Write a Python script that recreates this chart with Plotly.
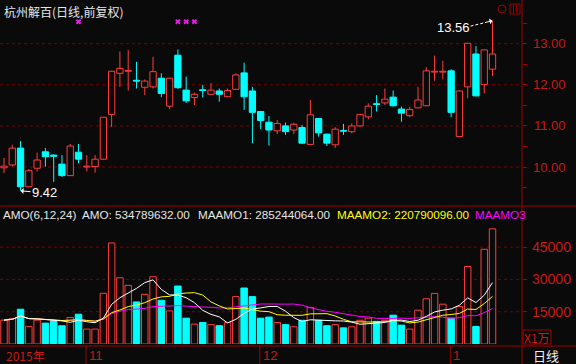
import plotly.graph_objects as go
import pandas as pd

# ---------------- data ----------------
idx = list(range(60))
opens = [9.98, 10.05, 10.46, 9.52, 9.97, 10.37, 10.29, 10.07, 9.79, 10.36,
         10.00, 10.01, 10.19, 11.28, 12.28, 12.33, 12.11, 11.94, 11.95, 12.16,
         11.48, 12.72, 11.87, 11.69, 11.88, 11.77, 11.85, 11.71, 11.89, 12.29,
         11.85, 11.35, 11.09, 10.88, 11.00, 10.90, 10.96, 10.55, 11.18, 10.80,
         10.54, 10.89, 10.86, 11.00, 11.22, 11.54, 11.56, 11.70, 11.41, 11.25,
         11.44, 11.49, 12.31, 12.31, 12.34, 10.74, 11.95, 12.75, 12.01, 12.38]
highs = [10.22, 10.54, 10.63, 9.95, 10.35, 10.46, 10.31, 10.29, 10.56, 10.56,
         10.29, 10.29, 11.22, 12.34, 12.81, 12.85, 12.56, 12.13, 12.68, 12.28,
         12.17, 12.86, 12.20, 11.81, 12.00, 12.04, 11.91, 11.91, 12.28, 12.54,
         11.95, 11.36, 11.24, 11.14, 11.08, 11.08, 11.02, 11.63, 11.19, 10.81,
         10.97, 11.05, 11.06, 11.29, 11.55, 11.75, 11.91, 11.86, 11.47, 11.47,
         11.95, 12.43, 12.71, 12.58, 12.38, 11.86, 13.02, 12.94, 12.86, 13.56]
lows = [9.85, 10.01, 9.42, 9.50, 9.89, 10.01, 9.64, 9.76, 9.78, 10.09,
        9.89, 9.86, 10.18, 10.97, 11.95, 11.86, 11.91, 11.75, 11.91, 11.70,
        11.41, 11.90, 11.56, 11.51, 11.69, 11.75, 11.59, 11.70, 11.88, 11.39,
        10.58, 10.92, 10.52, 10.80, 10.78, 10.80, 10.56, 10.54, 10.74, 10.51,
        10.46, 10.78, 10.82, 10.97, 11.16, 11.35, 11.51, 11.47, 11.10, 11.21,
        11.43, 11.48, 12.10, 12.13, 11.21, 10.73, 11.67, 11.72, 11.79, 12.21]
closes = [10.02, 10.46, 9.52, 9.91, 10.17, 10.25, 10.26, 9.79, 10.51, 10.19,
          10.02, 10.19, 11.21, 12.33, 12.40, 12.35, 12.09, 12.09, 12.32, 11.79,
          12.16, 11.93, 11.61, 11.77, 11.86, 11.87, 11.77, 11.86, 12.24, 11.71,
          11.33, 11.13, 10.90, 11.06, 10.86, 11.04, 10.58, 11.27, 10.83, 10.58,
          10.92, 10.87, 11.00, 11.28, 11.48, 11.52, 11.65, 11.49, 11.31, 11.40,
          11.63, 12.34, 12.33, 12.33, 11.33, 11.85, 13.01, 11.73, 12.85, 12.75]
# turnover amount, unit 10^4 yuan (X1万)
amount = [11080, 11840, 16150, 8150, 11080, 9690, 10770, 8460, 12310, 13840,
          6920, 6920, 23540, 46920, 30770, 27230, 19530, 23080, 31230, 20310,
          15380, 26920, 12000, 9230, 10000, 9000, 8500, 10000, 22000, 26000,
          22000, 12000, 12500, 10000, 9000, 8000, 11000, 17000, 11000, 8500,
          9000, 7500, 8000, 11000, 12000, 10500, 11000, 13385, 8770, 6920,
          15690, 21000, 23500, 18500, 12000, 17380, 36000, 8150, 44000, 53479]
ma_periods = [6, 12, 24]
ma_colors = ["#ffffff", "#ffff00", "#ff00ff"]
month_start_idx = [10, 31, 54]
month_labels = ["11", "12", "1"]
price_ticks = [10, 11, 12, 13]
price_tick_labels = ["10.00", "11.00", "12.00", "13.00"]
vol_ticks = [15000, 30000, 45000]
vol_tick_labels = ["15000", "30000", "45000"]
mark_idx = [9, 21, 22, 23]
mark_price = 13.535
hi_idx, hi_val = 59, 13.56
lo_idx, lo_val = 2, 9.42
title_text = "杭州解百(日线,前复权)"
ind_texts = [("AMO(6,12,24)", 1, "#e6e6e6"),
             ("AMO: 534789632.00", 80, "#e6e6e6"),
             ("MAAMO1: 285244064.00", 196, "#e6e6e6"),
             ("MAAMO2: 220790096.00", 335, "#ffff00"),
             ("MAAMO3", 473, "#ff00ff")]

# ---------------- style ----------------
W, H = 576, 364
BG = "#0a0a0a"
RED = "#ff3c3c"
CYAN = "#00ffff"
AXR = "#a00000"
GRID = "#7a0000"
LBL = "#c81818"
LAT = "Liberation Sans, Arial, DejaVu Sans, sans-serif"
CJK = "Noto Sans CJK SC, sans-serif"
PLOT_R = 522
PX_PER_BAR = 8.28
PX_PER_YUAN = 41.1


def px(x):
    return x / W


def py(y):
    return 1 - y / H


up = [c >= o for o, c in zip(opens, closes)]
body_base = [min(o, c) for o, c in zip(opens, closes)]
body_h = [max(abs(c - o), 0.012) for o, c in zip(opens, closes)]
body_fill = [BG if u else CYAN for u in up]
body_line = [RED if u else CYAN for u in up]

fig = go.Figure()

# wicks
for flag, col in [(True, RED), (False, CYAN)]:
    wx, wy = [], []
    for i, o, h, l, c, u in zip(idx, opens, highs, lows, closes, up):
        if u != flag:
            continue
        top, bot = max(o, c), min(o, c)
        if h > top:
            wx += [i, i, None]
            wy += [top, h, None]
        if l < bot:
            wx += [i, i, None]
            wy += [bot, l, None]
    fig.add_trace(go.Scatter(x=wx, y=wy, mode="lines", line=dict(color=col, width=1),
                             hoverinfo="skip", xaxis="x", yaxis="y"))

# bodies
fig.add_trace(go.Bar(x=idx, y=body_h, base=body_base, width=0.76,
                     marker=dict(color=body_fill, line=dict(color=body_line, width=1)),
                     hoverinfo="skip", xaxis="x", yaxis="y"))

# event markers
fig.add_trace(go.Scatter(x=mark_idx, y=[mark_price] * len(mark_idx), mode="markers",
                         marker=dict(symbol="x", size=5, color="#e020e0", line=dict(width=0)),
                         hoverinfo="skip", xaxis="x", yaxis="y"))

# amount bars
fig.add_trace(go.Bar(x=idx, y=amount, width=0.78,
                     marker=dict(color=body_fill, line=dict(color=body_line, width=1)),
                     hoverinfo="skip", xaxis="x2", yaxis="y2"))

# moving averages of amount
s = pd.Series(amount, dtype=float)
for n, col in list(zip(ma_periods, ma_colors))[::-1]:
    ma = s.rolling(n, min_periods=1).mean().tolist()
    fig.add_trace(go.Scatter(x=idx, y=ma, mode="lines", line=dict(color=col, width=1),
                             hoverinfo="skip", xaxis="x2", yaxis="y2"))

xr = [-4 / PX_PER_BAR, (PLOT_R - 4) / PX_PER_BAR]
p_lo = 13 - (206 - 43.7) / PX_PER_YUAN
p_hi = 13 + 43.7 / PX_PER_YUAN
v_top = (344 - 207) / 32.3 * 15000

axis_common = dict(showgrid=False, zeroline=False, showticklabels=False, fixedrange=True)
fig.update_layout(
    width=W, height=H, margin=dict(l=0, r=0, t=0, b=0),
    paper_bgcolor=BG, plot_bgcolor=BG, showlegend=False, barmode="overlay",
    xaxis=dict(domain=[0, px(PLOT_R)], range=xr, anchor="y", **axis_common),
    xaxis2=dict(domain=[0, px(PLOT_R)], range=xr, anchor="y2", matches="x", **axis_common),
    yaxis=dict(domain=[py(206), 1], range=[p_lo, p_hi], side="right", anchor="x",
               showline=False, ticks="outside", ticklen=4, tickcolor=AXR,
               tickvals=[v / 2 for v in range(19, 28)], **axis_common),
    yaxis2=dict(domain=[py(344), py(207)], range=[0, v_top], side="right", anchor="x2",
                showline=False, ticks="outside", ticklen=4, tickcolor=AXR,
                tickvals=vol_ticks, **axis_common),
)

shapes = []
# grid lines
for t in price_ticks:
    shapes.append(dict(type="line", xref="paper", yref="y", x0=0, x1=px(PLOT_R), y0=t, y1=t,
                       line=dict(color=GRID, width=1, dash="dot"), layer="below"))
for t in vol_ticks:
    shapes.append(dict(type="line", xref="paper", yref="y2", x0=0, x1=px(PLOT_R), y0=t, y1=t,
                       line=dict(color=GRID, width=1, dash="dot"), layer="below"))
# frame lines
shapes.append(dict(type="line", xref="paper", yref="paper", x0=px(PLOT_R), x1=px(PLOT_R), y0=0, y1=1,
                   line=dict(color=AXR, width=1)))
shapes.append(dict(type="line", xref="paper", yref="paper", x0=0, x1=1, y0=py(206), y1=py(206),
                   line=dict(color=AXR, width=1)))
shapes.append(dict(type="line", xref="paper", yref="paper", x0=0, x1=1, y0=py(346), y1=py(346),
                   line=dict(color=AXR, width=1)))
# X1万 box
shapes.append(dict(type="rect", xref="paper", yref="paper", x0=px(523), x1=px(551), y0=py(344), y1=py(330),
                   line=dict(color=AXR, width=1)))
# top-right icons
shapes.append(dict(type="circle", xref="paper", yref="paper", x0=px(498), x1=px(506), y0=py(13), y1=py(5),
                   line=dict(color=AXR, width=1)))
shapes.append(dict(type="rect", xref="paper", yref="paper", x0=px(510), x1=px(520), y0=py(14), y1=py(4),
                   line=dict(color=AXR, width=1)))
shapes.append(dict(type="line", xref="paper", yref="paper", x0=px(513.5), x1=px(513.5), y0=py(13), y1=py(5),
                   line=dict(color=AXR, width=1)))
shapes.append(dict(type="line", xref="paper", yref="paper", x0=px(516.5), x1=px(516.5), y0=py(13), y1=py(5),
                   line=dict(color=AXR, width=1)))
# month separators
for m in month_start_idx:
    shapes.append(dict(type="line", xref="x", yref="paper", x0=m - 0.1, x1=m - 0.1, y0=0, y1=py(346),
                       line=dict(color=AXR, width=1)))
# dashed leader for the high marker
shapes.append(dict(type="line", xref="x", yref="y",
                   x0=hi_idx - 22 / PX_PER_BAR, y0=hi_val - 5.5 / PX_PER_YUAN,
                   x1=hi_idx - 2 / PX_PER_BAR, y1=hi_val - 0.5 / PX_PER_YUAN,
                   line=dict(color="#ffffff", width=1, dash="3px,2px")))
fig.update_layout(shapes=shapes)

ann = []
ann.append(dict(text=title_text, x=px(2), y=py(12), xref="paper", yref="paper", xanchor="left",
                yanchor="middle", showarrow=False, font=dict(family=CJK, size=12, color="#e6e6e6")))
for t, lab in zip(price_ticks, price_tick_labels):
    ann.append(dict(text=lab, x=px(568), y=t, xref="paper", yref="y", xanchor="right", yanchor="middle",
                    showarrow=False, font=dict(family=LAT, size=13, color=LBL)))
for t, lab in zip(vol_ticks, vol_tick_labels):
    ann.append(dict(text=lab, x=px(573), y=t, xref="paper", yref="y2", xanchor="right", yanchor="middle",
                    showarrow=False, font=dict(family=LAT, size=14, color=LBL)))
ann.append(dict(text="X1万", x=px(537), y=py(337), xref="paper", yref="paper", xanchor="center",
                yanchor="middle", showarrow=False, font=dict(family=CJK, size=12, color=LBL)))
ann.append(dict(text="日线", x=px(546), y=py(355), xref="paper", yref="paper", xanchor="center",
                yanchor="middle", showarrow=False, font=dict(family=CJK, size=13, color="#f0f0f0")))
ann.append(dict(text="2015年", x=px(4), y=py(355), xref="paper", yref="paper", xanchor="left",
                yanchor="middle", showarrow=False, font=dict(family=CJK, size=12, color=LBL)))
for m, lab in zip(month_start_idx, month_labels):
    ann.append(dict(text=lab, x=m, y=py(355), xref="x", yref="paper", xanchor="left", xshift=0,
                    yanchor="middle", showarrow=False, font=dict(family=LAT, size=13, color=LBL)))
for txt, x0, col in ind_texts:
    ann.append(dict(text=txt, x=px(x0), y=py(214), xref="paper", yref="paper", xanchor="left",
                    yanchor="middle", showarrow=False, font=dict(family=LAT, size=11.7, color=col)))
# high / low markers
ann.append(dict(text=f"{hi_val:.2f}", x=hi_idx - 39 / PX_PER_BAR, y=hi_val - 7 / PX_PER_YUAN,
                xref="x", yref="y", showarrow=False,
                font=dict(family=LAT, size=13, color="#ffffff")))
ann.append(dict(text="", x=hi_idx, y=hi_val, xref="x", yref="y", showarrow=True,
                ax=-6, ay=1.5, arrowhead=1, arrowsize=1, arrowwidth=1, arrowcolor="#ffffff"))
ann.append(dict(text=f"{lo_val:.2f}", x=lo_idx, y=lo_val, xref="x", yref="y", showarrow=True,
                ax=24, ay=2, arrowhead=1, arrowsize=1, arrowwidth=1, arrowcolor="#ffffff",
                font=dict(family=LAT, size=13, color="#ffffff")))
fig.update_layout(annotations=ann)

fig.write_html("out.html", config={"displayModeBar": False},
               post_script="document.body.style.margin='0';")
